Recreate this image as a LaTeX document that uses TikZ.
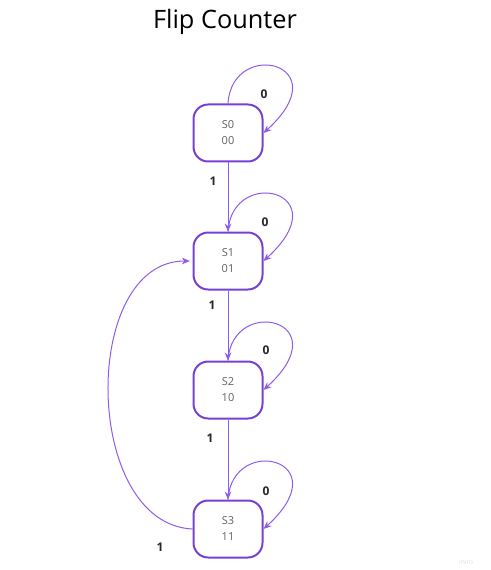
\documentclass[tikz,border=0pt]{standalone}
\usepackage{fontspec}
\setmainfont{Open Sans}
\usepackage{tikz}
\usetikzlibrary{positioning, arrows.meta}
\definecolor{boxline}{RGB}{118,64,214}
\definecolor{edgeline}{RGB}{140,92,232}
\definecolor{statetext}{RGB}{95,95,95}

\tikzset{
    state/.style={draw=boxline, line width=1.5pt, rounded corners=11pt,
        minimum width=51.75pt, minimum height=42.75pt, align=center,
        font=\fontsize{8.25}{12}\selectfont, text=statetext},
    edge/.style={draw=edgeline, line width=0.75pt, -{Stealth[length=6pt,width=5pt]}},
    selfloop/.style={edge, to path={.. controls +(4,-66) and +(77,-70) .. (\tikztotarget)}},
    lbl/.style={font=\fontsize{9}{10}\selectfont\bfseries, text=black!85}
}

\begin{document}
\begin{tikzpicture}[x=0.75pt, y=-0.75pt]
        % Canvas
        \useasboundingbox (0,0) rectangle (490,570);

        % Title
        \node (title) at (225,22) {\fontsize{19}{21}\selectfont Flip Counter};

        % States
        \node[state] (s0) at (228,133) {S0\\00};
        \node[state] (s1) at (228,261) {S1\\01};
        \node[state] (s2) at (228,390) {S2\\10};
        \node[state] (s3) at (228,529) {S3\\11};

        % Input 1: next state
        \draw[edge] (s0) -- (s1);
        \draw[edge] (s1) -- (s2);
        \draw[edge] (s2) -- (s3);
        \draw[edge] (s3.west) .. controls +(-110,-5) and +(-110,0) .. ([xshift=-2pt]s1.west);

        % Input 0: stay
        \draw[selfloop] (s0.north) to (s0.east);
        \draw[selfloop] (s1.north) to (s1.east);
        \draw[selfloop] (s2.north) to (s2.east);
        \draw[selfloop] (s3.north) to (s3.east);

        % Labels
        \node[lbl] (l01) at (213,181) {1};
        \node[lbl] (l12) at (212,305) {1};
        \node[lbl] (l23) at (210,438) {1};
        \node[lbl] (l31) at (160,547) {1};
        \node[lbl] (l00) at (264,94) {0};
        \node[lbl] (l11) at (265,222) {0};
        \node[lbl] (l22) at (266,350) {0};
        \node[lbl] (l33) at (266,491) {0};

        % Watermark
        \node[text=black!12, font=\fontsize{5}{6}\selectfont] (mark) at (466,562) {miro};
    \end{tikzpicture}
\end{document}
